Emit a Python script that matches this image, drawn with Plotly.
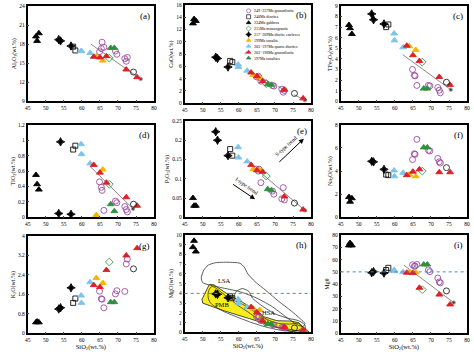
import plotly.graph_objects as go

W, H = 474, 354
FONT = "Liberation Serif"

# ---------------- data ----------------
GROUP_ORDER = ["gran", "dior", "gabb", "monz", "encl", "tona", "qdio", "grd2", "ton2", "circ"]
LABELS = {
    "gran": "249~237Ma granodiorite",
    "dior": "240Ma diorites",
    "gabb": "224Ma gabbros",
    "monz": "215Ma monzogranite",
    "encl": "217~209Ma diorite enclaves",
    "tona": "199Ma tonalite",
    "qdio": "203~197Ma quartz diorites",
    "grd2": "203~198Ma granodiorite",
    "ton2": "197Ma tonalites",
    "circ": "",
}

SIO2 = {
    "gran": [64.9, 65.4, 65.6, 66.1, 69.3, 69.7, 71.9, 72.3, 72.6],
    "dior": [57.6, 58.2],
    "gabb": [47.3, 47.6, 48.1],
    "monz": [67.6],
    "encl": [53.6, 54.1, 57.0],
    "tona": [64.0, 65.8],
    "qdio": [59.8, 59.9, 62.3, 62.6],
    "grd2": [63.3, 65.0, 66.8, 72.3, 75.3],
    "ton2": [68.0, 69.0],
    "circ": [74.3],
}
SIO2_COL2 = {"grd2": [63.4, 65.0, 66.6, 72.6, 77.8], "circ": [75.4]}

AL2O3 = {
    "gran": [16.8, 17.3, 18.3, 17.5, 16.9, 16.4, 15.7, 15.3, 15.9],
    "dior": [17.6, 17.0], "gabb": [19.2, 18.5, 19.7], "monz": [15.8],
    "encl": [18.7, 18.5, 17.7], "tona": [16.1, 15.4],
    "qdio": [16.9, 16.9, 16.6, None], "grd2": [16.0, 15.9, 16.1, 14.0, 12.8],
    "ton2": [17.4, 17.4], "circ": [13.6],
}
CAO = {
    "gran": [4.3, 4.4, 4.2, 3.6, 2.9, 2.8, 2.3, 1.8, 2.1],
    "dior": [6.9, 6.7], "gabb": [13.0, 13.7, 13.4], "monz": [3.2],
    "encl": [7.5, 7.3, 5.9], "tona": [4.6, 4.2],
    "qdio": [6.3, 5.9, 5.3, 8.3], "grd2": [5.0, 4.4, 3.6, 2.2, 0.8],
    "ton2": [3.1, 3.0], "circ": [1.6],
}
TFE2O3 = {
    "gran": [3.0, 2.45, 2.4, 1.5, 1.5, 1.45, 1.3, 1.05, 0.8],
    "dior": [7.0, 7.25], "gabb": [7.2, 6.9, 6.35], "monz": [3.7],
    "encl": [8.25, 7.7, 7.3], "tona": [5.2, 4.85],
    "qdio": [6.4, 5.75, 5.1, None], "grd2": [5.25, 4.35, 3.8, 2.3, 1.55],
    "ton2": [1.2, 1.2], "circ": [1.8],
}
TIO2 = {
    "gran": [0.46, 0.39, 0.35, 0.09, 0.21, 0.19, 0.14, 0.1, 0.07],
    "dior": [0.88, 0.93], "gabb": [0.55, 0.43, 0.36], "monz": [0.43],
    "encl": [0.05, 0.98, 0.04], "tona": [0.03, 0.62],
    "qdio": [0.95, 0.82, 0.70, None], "grd2": [0.68, 0.58, 0.45, 0.26, 0.15],
    "ton2": [0.17, 0.08], "circ": [0.17],
}
P2O5 = {
    "gran": [0.125, 0.12, 0.125, 0.09, 0.068, 0.06, 0.048, 0.077, 0.045],
    "dior": [0.177, 0.16], "gabb": [0.05, 0.03, 0.03], "monz": [0.107],
    "encl": [0.222, 0.2, 0.16], "tona": [0.125, 0.122],
    "qdio": [0.182, 0.155, 0.145, None], "grd2": [0.136, 0.122, 0.118, 0.054, 0.02],
    "ton2": [0.073, 0.07], "circ": [0.037],
}
NA2O = {
    "gran": [5.0, 5.5, 5.45, 6.75, 5.8, 5.75, 5.1, 4.8, 4.7],
    "dior": [3.7, 3.65], "gabb": [1.75, 1.35, 1.65], "monz": [4.0],
    "encl": [4.85, 4.8, 4.15], "tona": [3.7, 3.55],
    "qdio": [4.05, 3.55, 3.85, None], "grd2": [3.65, 3.95, 4.15, 3.9, 3.9],
    "ton2": [6.05, 6.05], "circ": [4.3],
}
K2O = {
    "gran": [1.73, 1.42, 1.4, 1.05, 1.62, 1.75, 1.72, 2.85, 3.05],
    "dior": [1.25, 1.43], "gabb": [0.45, 0.48, 0.45], "monz": [2.93],
    "encl": [1.0, 1.05, 1.87], "tona": [2.27, 2.07],
    "qdio": [1.55, 1.25, 2.1, None], "grd2": [1.98, 1.9, 2.6, 3.2, 3.5],
    "ton2": [1.28, 1.28], "circ": [2.65],
}
MGO = {
    "gran": [1.6, 1.55, 1.6, 1.2, 0.8, 0.75, 0.5, 0.5, 0.45],
    "dior": [3.7, 3.5], "gabb": [8.75, 9.4, 8.3], "monz": [0.95],
    "encl": [3.95, 3.9, 3.55], "tona": [2.45, 2.3],
    "qdio": [3.4, 3.0, 2.6, None], "grd2": [2.6, 2.05, 1.2, 0.55, 0.25],
    "ton2": [0.85, 0.85], "circ": [0.45],
}
MGNUM = {
    "gran": [55.8, 54.5, 54.8, 56.0, 51.5, 50.2, 45.0, 41.8, 41.0],
    "dior": [51.5, 53.3], "gabb": [71.5, 73.5, 71.5], "monz": [35.5],
    "encl": [49.3, 50.2, 49.0], "tona": [49.8, 49.6],
    "qdio": [51.5, 50.5, 49.8, None], "grd2": [49.3, 49.0, 37.0, 31.5, 23.5],
    "ton2": [56.0, 56.0], "circ": [34.5],
}

TRENDS = {
    "a": ([62.5, 76.3], [18.0, 12.5]),
    "b": ([62.0, 78.3], [5.4, 0.5]),
    "c": ([62.2, 75.5], [4.4, 1.1]),
    "d": ([62.3, 74.2], [0.66, 0.11]),
    "e": ([63.0, 78.3], [0.14, 0.018]),
    "i": ([62.5, 76.3], [55.5, 25.0]),
}

LSA_X = [49.6, 50.3, 51.5, 53.5, 57.0, 60.3, 61.5, 62.5, 64.5, 67.5, 71.0, 74.5, 77.0, 78.3, 77.8, 76.0, 73.0, 69.0, 64.5, 60.0, 55.0, 51.5, 50.0, 49.6]
LSA_Y = [5.6, 6.4, 6.9, 7.15, 7.2, 7.1, 6.7, 6.0, 5.2, 4.3, 3.2, 2.2, 1.4, 0.9, 0.6, 0.8, 1.6, 2.7, 3.6, 4.2, 4.6, 4.9, 5.1, 5.6]
HSA_X = [58.5, 59.3, 61.0, 62.8, 63.8, 66.5, 70.0, 73.5, 76.5, 78.2, 78.4, 77.0, 74.0, 70.0, 66.0, 62.5, 60.0, 58.6, 58.5]
HSA_Y = [3.5, 4.2, 4.5, 4.2, 3.5, 2.7, 1.9, 1.45, 1.2, 0.8, 0.3, 0.15, 0.3, 0.6, 1.2, 2.1, 2.7, 3.1, 3.5]
PMB_X = [51.8, 53.0, 57.0, 61.0, 64.0, 67.0, 70.5, 74.5, 76.5, 79.5, 75.5, 70.0, 63.0, 56.0, 50.0, 49.8, 51.8]
PMB_Y = [4.9, 4.9, 3.9, 3.1, 2.4, 1.6, 1.2, 1.15, 1.0, 0.0, 0.0, 0.55, 1.4, 2.2, 3.0, 3.4, 4.9]
PMB_IN_X = [52.5, 57.0, 62.0, 66.0, 70.0, 74.0, 76.5, 77.5, 76.0, 72.0, 66.0, 60.0, 55.0, 52.0, 51.5, 52.5]
PMB_IN_Y = [4.7, 3.6, 2.7, 1.7, 1.0, 0.85, 0.9, 0.5, 0.15, 0.2, 0.7, 1.5, 2.3, 3.1, 4.0, 4.7]
FIELD_LABELS = [("LSA", 56.0, 5.3), ("HSA", 68.2, 2.0), ("PMB", 55.2, 2.9)]

MGO_REF = 4
MGNUM_REF = 50
ARROW_S = ([70.8, 78.0], [0.14, 0.204])
ARROW_I = ([58.0, 64.5], [0.088, 0.047])

STYLE = {
    "gran": dict(symbol="circle-open", color="#9b4fa0", size=6),
    "dior": dict(symbol="square-open", color="#111111", size=5),
    "gabb": dict(symbol="triangle-up", color="#000000", size=6),
    "monz": dict(symbol="diamond-open", color="#3a9a4a", size=6),
    "encl": dict(symbol="star-diamond", color="#000000", size=6),
    "tona": dict(symbol="triangle-up", color="#f5b400", size=6),
    "qdio": dict(symbol="triangle-up", color="#7cc4ec", size=6),
    "grd2": dict(symbol="triangle-up", color="#dd1f26", size=6),
    "ton2": dict(symbol="triangle-up", color="#2f8f3f", size=6),
    "circ": dict(symbol="circle-open", color="#222222", size=6),
}

# panel key, data, y-range, dtick, title, pixel box (x0, x1, ytop, ybottom)
PANELS = [
    ("a", AL2O3, [9, 24], 3, "Al<sub>2</sub>O<sub>3</sub>(wt.%)", (25, 153, 3, 100)),
    ("b", CAO, [0, 16], 2, "CaO(wt.%)", (184, 312, 2, 102)),
    ("c", TFE2O3, [0, 9], 1, "TFe<sub>2</sub>O<sub>3</sub>(wt.%)", (342, 470, 3, 100)),
    ("d", TIO2, [0, 1.2], 0.2, "TiO<sub>2</sub>(wt.%)", (25, 153, 124, 218)),
    ("e", P2O5, [0, 0.25], 0.05, "P<sub>2</sub>O<sub>5</sub>(wt.%)", (184, 312, 120, 218)),
    ("f", NA2O, [0, 8], 2, "Na<sub>2</sub>O(wt.%)", (342, 470, 124, 218)),
    ("g", K2O, [0, 4], 0.8, "K<sub>2</sub>O(wt.%)", (25, 153, 237, 336)),
    ("h", MGO, [0, 10], 1, "MgO(wt.%)", (184, 312, 236, 335)),
    ("i", MGNUM, [0, 80], 10, "Mg#", (342, 470, 236, 336)),
]
COL2 = {"b", "e", "h"}
LEGEND_BOX = (247, 291, 5, 59)  # pixel box of the in-panel key (x0, x1, ytop, ybottom)

fig = go.Figure()
layout = dict(
    width=W, height=H, margin=dict(l=0, r=0, t=0, b=0),
    paper_bgcolor="white", plot_bgcolor="white",
    font=dict(family=FONT, size=6, color="black"),
    showlegend=False,
)
annotations = []
shapes = []

for idx, (key, data, yr, dt, title, box) in enumerate(PANELS):
    n = "" if idx == 0 else str(idx + 1)
    xa, ya = "x" + n, "y" + n
    x0, x1, yt, yb = box
    axcommon = dict(showgrid=False, zeroline=False, showline=True, mirror=True,
                    linecolor="black", linewidth=1.5, ticks="inside", ticklen=2,
                    tickwidth=0.8, tickfont=dict(size=5.5, family=FONT))
    layout["xaxis" + n] = dict(axcommon, domain=[x0 / W, x1 / W], range=[45, 80],
                               tickvals=[45, 50, 55, 60, 65, 70, 75, 80], anchor=ya)
    if key in ("g", "h", "i"):
        layout["xaxis" + n]["title"] = dict(text="SiO<sub>2</sub>(wt.%)", font=dict(size=6.5), standoff=2)
    layout["yaxis" + n] = dict(axcommon, domain=[1 - yb / H, 1 - yt / H], range=yr,
                               dtick=dt, tick0=0, anchor=xa,
                               title=dict(text=title, font=dict(size=6), standoff=2))

    if key == "h":
        fig.add_trace(go.Scatter(x=PMB_X, y=PMB_Y, mode="lines", fill="toself",
                                 fillcolor="#f7ec1c", line=dict(color="#222", width=0.8),
                                 xaxis=xa, yaxis=ya, hoverinfo="skip"))
        fig.add_trace(go.Scatter(x=PMB_IN_X, y=PMB_IN_Y, mode="lines",
                                 line=dict(color="#222", width=0.7, shape="spline"),
                                 xaxis=xa, yaxis=ya, hoverinfo="skip"))
        fig.add_trace(go.Scatter(x=LSA_X, y=LSA_Y, mode="lines",
                                 line=dict(color="#333", width=0.8, shape="spline", smoothing=0.6),
                                 xaxis=xa, yaxis=ya, hoverinfo="skip"))
        fig.add_trace(go.Scatter(x=HSA_X, y=HSA_Y, mode="lines",
                                 line=dict(color="#333", width=0.8, shape="spline", smoothing=0.6),
                                 xaxis=xa, yaxis=ya, hoverinfo="skip"))
        for txt, tx, ty in FIELD_LABELS:
            annotations.append(dict(text=txt, x=tx, y=ty, xref=xa, yref=ya, showarrow=False,
                                    font=dict(size=6.5, family=FONT)))
        shapes.append(dict(type="line", xref=xa + " domain", yref=ya, x0=0, x1=1,
                           y0=MGO_REF, y1=MGO_REF, line=dict(color="#3d8fd4", width=1, dash="dot")))
    if key == "i":
        shapes.append(dict(type="line", xref=xa + " domain", yref=ya, x0=0, x1=1,
                           y0=MGNUM_REF, y1=MGNUM_REF, line=dict(color="#3d8fd4", width=1, dash="dot")))

    if key in TRENDS:
        tx, ty = TRENDS[key]
        fig.add_trace(go.Scatter(x=tx, y=ty, mode="lines+markers",
                                 line=dict(color="#8a8a8a", width=1, dash="dash" if key == "b" else "solid"),
                                 marker=dict(size=[0, 3.5], color="black"),
                                 xaxis=xa, yaxis=ya, hoverinfo="skip"))

    if key == "e":
        for ax_, ay_ in (ARROW_S, ARROW_I):
            annotations.append(dict(x=ax_[1], y=ay_[1], ax=ax_[0], ay=ay_[0], xref=xa, yref=ya,
                                    axref=xa, ayref=ya, showarrow=True, arrowhead=2,
                                    arrowsize=1, arrowwidth=1, arrowcolor="black", text=""))
        annotations.append(dict(text="S-type trend", x=73.0, y=0.186, xref=xa, yref=ya,
                                showarrow=False, textangle=-42, font=dict(size=5.5, family=FONT)))
        annotations.append(dict(text="I-type trend", x=62.3, y=0.082, xref=xa, yref=ya,
                                showarrow=False, textangle=35, font=dict(size=5.5, family=FONT)))

    for g in GROUP_ORDER:
        xs = SIO2_COL2.get(g, SIO2[g]) if key in COL2 else SIO2[g]
        st = STYLE[g]
        fig.add_trace(go.Scatter(
            x=xs, y=data[g], mode="markers", name=LABELS[g],
            marker=dict(symbol=st["symbol"], color=st["color"], size=st["size"],
                        line=dict(width=0.9, color=st["color"])),
            xaxis=xa, yaxis=ya, hoverinfo="skip"))

    annotations.append(dict(text="(%s)" % key, x=0.985, y=0.97, xref=xa + " domain",
                            yref=ya + " domain", xanchor="right", yanchor="top",
                            showarrow=False, font=dict(size=9, family=FONT)))

# compact key inside panel (b), drawn on a hidden overlay axis
lx0, lx1, lyt, lyb = LEGEND_BOX
layout["xaxis10"] = dict(domain=[lx0 / W, lx1 / W], range=[0, 1], visible=False, anchor="y10")
layout["yaxis10"] = dict(domain=[1 - lyb / H, 1 - lyt / H], range=[0, 1], visible=False, anchor="x10")
keys = [g for g in GROUP_ORDER if LABELS[g]]
nk = len(keys)
for i, g in enumerate(keys):
    st = STYLE[g]
    yy = 1 - (i + 0.5) / nk
    fig.add_trace(go.Scatter(x=[0.04], y=[yy], mode="markers", xaxis="x10", yaxis="y10",
                             marker=dict(symbol=st["symbol"], color=st["color"], size=4,
                                         line=dict(width=0.7, color=st["color"])),
                             hoverinfo="skip", cliponaxis=False))
    annotations.append(dict(text=LABELS[g], x=0.12, y=yy, xref="x10", yref="y10",
                            xanchor="left", yanchor="middle", showarrow=False,
                            font=dict(size=4.0, family=FONT)))

layout["annotations"] = annotations
layout["shapes"] = shapes
fig.update_layout(**layout)
fig.write_html("out.html")
